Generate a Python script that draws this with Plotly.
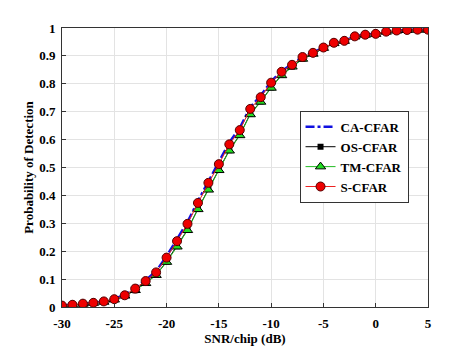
import plotly.graph_objects as go

snr = list(range(-30, 6))
s_cfar = [0.005, 0.008, 0.012, 0.015, 0.020, 0.028, 0.042, 0.066, 0.093, 0.124, 0.177, 0.236,
          0.298, 0.373, 0.445, 0.512, 0.583, 0.634, 0.710, 0.752, 0.804, 0.843, 0.868, 0.896,
          0.911, 0.930, 0.947, 0.954, 0.970, 0.976, 0.979, 0.987, 0.991, 0.993, 0.994, 0.994]
ca_cfar = [0.005, 0.008, 0.012, 0.015, 0.020, 0.029, 0.044, 0.068, 0.096, 0.128, 0.182, 0.242,
           0.305, 0.380, 0.452, 0.520, 0.590, 0.642, 0.716, 0.758, 0.808, 0.846, 0.870, 0.897,
           0.912, 0.931, 0.947, 0.954, 0.970, 0.976, 0.979, 0.987, 0.991, 0.993, 0.994, 0.994]
os_cfar = [0.004, 0.007, 0.011, 0.014, 0.018, 0.026, 0.040, 0.060, 0.086, 0.115, 0.163, 0.218,
           0.277, 0.352, 0.423, 0.492, 0.562, 0.617, 0.692, 0.737, 0.787, 0.832, 0.862, 0.890,
           0.908, 0.928, 0.945, 0.953, 0.969, 0.975, 0.978, 0.986, 0.990, 0.992, 0.993, 0.993]
tm_cfar = [0.004, 0.007, 0.011, 0.014, 0.018, 0.026, 0.040, 0.060, 0.085, 0.114, 0.161, 0.216,
           0.275, 0.350, 0.420, 0.490, 0.560, 0.615, 0.690, 0.735, 0.785, 0.830, 0.861, 0.889,
           0.907, 0.928, 0.945, 0.953, 0.969, 0.975, 0.978, 0.986, 0.990, 0.992, 0.993, 0.993]

x_ticks = [-30, -25, -20, -15, -10, -5, 0, 5]
y_ticks = [0, 0.1, 0.2, 0.3, 0.4, 0.5, 0.6, 0.7, 0.8, 0.9, 1]

FONT = "Liberation Serif"
tick_font = dict(family=FONT, size=13, color="black", weight="bold")
title_font = dict(family=FONT, size=13, color="black", weight="bold")

fig = go.Figure()
fig.add_trace(go.Scatter(x=snr, y=ca_cfar, name="CA-CFAR", mode="lines",
                         line=dict(color="#1010e0", width=2.5, dash="dashdot")))
fig.add_trace(go.Scatter(x=snr, y=os_cfar, name="OS-CFAR", mode="lines+markers",
                         line=dict(color="black", width=1),
                         marker=dict(symbol="square", size=6, color="black")))
fig.add_trace(go.Scatter(x=snr, y=tm_cfar, name="TM-CFAR", mode="lines+markers",
                         line=dict(color="#22bb22", width=1),
                         marker=dict(symbol="triangle-up", size=9, color="#22dd22",
                                     line=dict(color="black", width=1))))
fig.add_trace(go.Scatter(x=snr, y=s_cfar, name="S-CFAR", mode="lines+markers",
                         line=dict(color="#ee2222", width=1),
                         marker=dict(symbol="circle", size=9, color="#ee0000",
                                     line=dict(color="#550000", width=1))))

axis_common = dict(showgrid=True, gridcolor="#e3e3e3", gridwidth=1, zeroline=False,
                   showline=True, linecolor="#333333", linewidth=1, mirror=True,
                   ticks="inside", ticklen=4, tickcolor="#333333", tickfont=tick_font)

fig.update_xaxes(range=[-30, 5], tickvals=x_ticks, ticktext=[str(v) for v in x_ticks],
                 ticklabelstandoff=4,
                 title=dict(text="SNR/chip (dB)", font=title_font, standoff=2),
                 **axis_common)
fig.update_yaxes(range=[0, 1], tickvals=y_ticks, ticktext=["0", "0.1", "0.2", "0.3", "0.4", "0.5",
                                                           "0.6", "0.7", "0.8", "0.9", "1"],
                 ticklabelstandoff=3,
                 title=dict(text="Probability of Detection", font=title_font, standoff=2),
                 **axis_common)

fig.update_layout(
    width=474, height=354,
    margin=dict(l=62, r=46, t=28, b=40),
    paper_bgcolor="white", plot_bgcolor="white",
    font=dict(family=FONT, size=13, color="black", weight="bold"),
    showlegend=True,
    legend=dict(x=0.649, y=0.703, xanchor="left", yanchor="top",
                bgcolor="white", bordercolor="#333333", borderwidth=1,
                font=dict(family=FONT, size=13, color="black", weight="bold"),
                tracegroupgap=0, itemwidth=30),
)

fig.write_html("out.html")
